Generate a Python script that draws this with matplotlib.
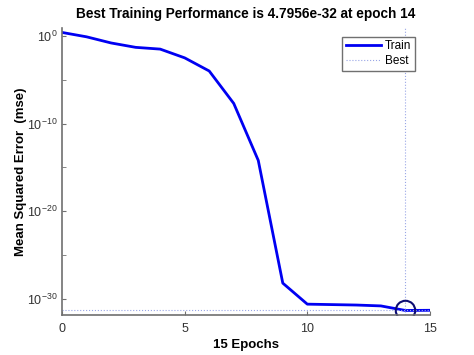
import matplotlib
matplotlib.use('Agg')
import matplotlib.pyplot as plt
import numpy as np

plt.rcParams['font.family'] = ['Liberation Sans', 'DejaVu Sans']
plt.rcParams['mathtext.default'] = 'regular'

# training performance per epoch (log10 of mse)
epochs = [0, 1, 2, 3, 4, 5, 6, 7, 8, 9, 10, 11, 12, 13, 14, 15]
log_mse = [0.4, -0.1, -0.8, -1.3, -1.5, -2.5, -4.0, -7.7, -14.2, -28.2,
           -30.6, -30.65, -30.7, -30.8, -31.32, -31.3]
best_epoch = 14
best_perf = 4.7956e-32

ytick_pos = [1e0, 1e-10, 1e-20, 1e-30]
ytick_labels = ['$10^{0}$', '$10^{-10}$', '$10^{-20}$', '$10^{-30}$']

mse = 10.0 ** np.array(log_mse)

fig = plt.figure(figsize=(4.74, 3.55), dpi=100)
ax = fig.add_axes([0.131, 0.113, 0.776, 0.808])

ax.semilogy(epochs, mse, color=(0, 0, 0.95), lw=2, label='Train')
ax.axvline(best_epoch, color=(0.6, 0.65, 0.9), lw=0.8, ls=':', label='Best')
ax.axhline(best_perf, color=(0.6, 0.65, 0.9), lw=0.8, ls=':')
ax.plot([best_epoch], [best_perf], 'o', ms=14, mfc='none', mec=(0.05, 0.05, 0.45), mew=1.5)

ax.set_xlim(0, 15)
ax.set_ylim(1.5e-32, 8)
ax.set_xticks([0, 5, 10, 15])
ax.set_yticks(ytick_pos)
ax.set_yticklabels(ytick_labels)
ax.set_yticks([1e-5, 1e-15, 1e-25], minor=True)
ax.yaxis.set_minor_formatter(matplotlib.ticker.NullFormatter())

for s in ['top', 'right']:
    ax.spines[s].set_visible(False)
for s in ['left', 'bottom']:
    ax.spines[s].set_color('#707070')
    ax.spines[s].set_linewidth(1.2)
ax.tick_params(which='both', direction='in', colors='#707070', labelcolor='#333333',
               labelsize=9, length=3)
ax.tick_params(axis='x', pad=6)

ax.set_title('Best Training Performance is 4.7956e-32 at epoch 14',
             fontsize=9.8, fontweight='bold', pad=7)
ax.set_xlabel('15 Epochs', fontsize=9.5, fontweight='bold', labelpad=3)
ax.set_ylabel('Mean Squared Error  (mse)', fontsize=9.5, fontweight='bold', labelpad=0)

leg = ax.legend(loc='upper right', fontsize=8.5, fancybox=False, framealpha=1,
                edgecolor='#707070', handlelength=3.0, borderpad=0.3,
                labelspacing=0.25, handletextpad=0.3, bbox_to_anchor=(0.975, 0.99))

fig.savefig('out.png', dpi=100)
